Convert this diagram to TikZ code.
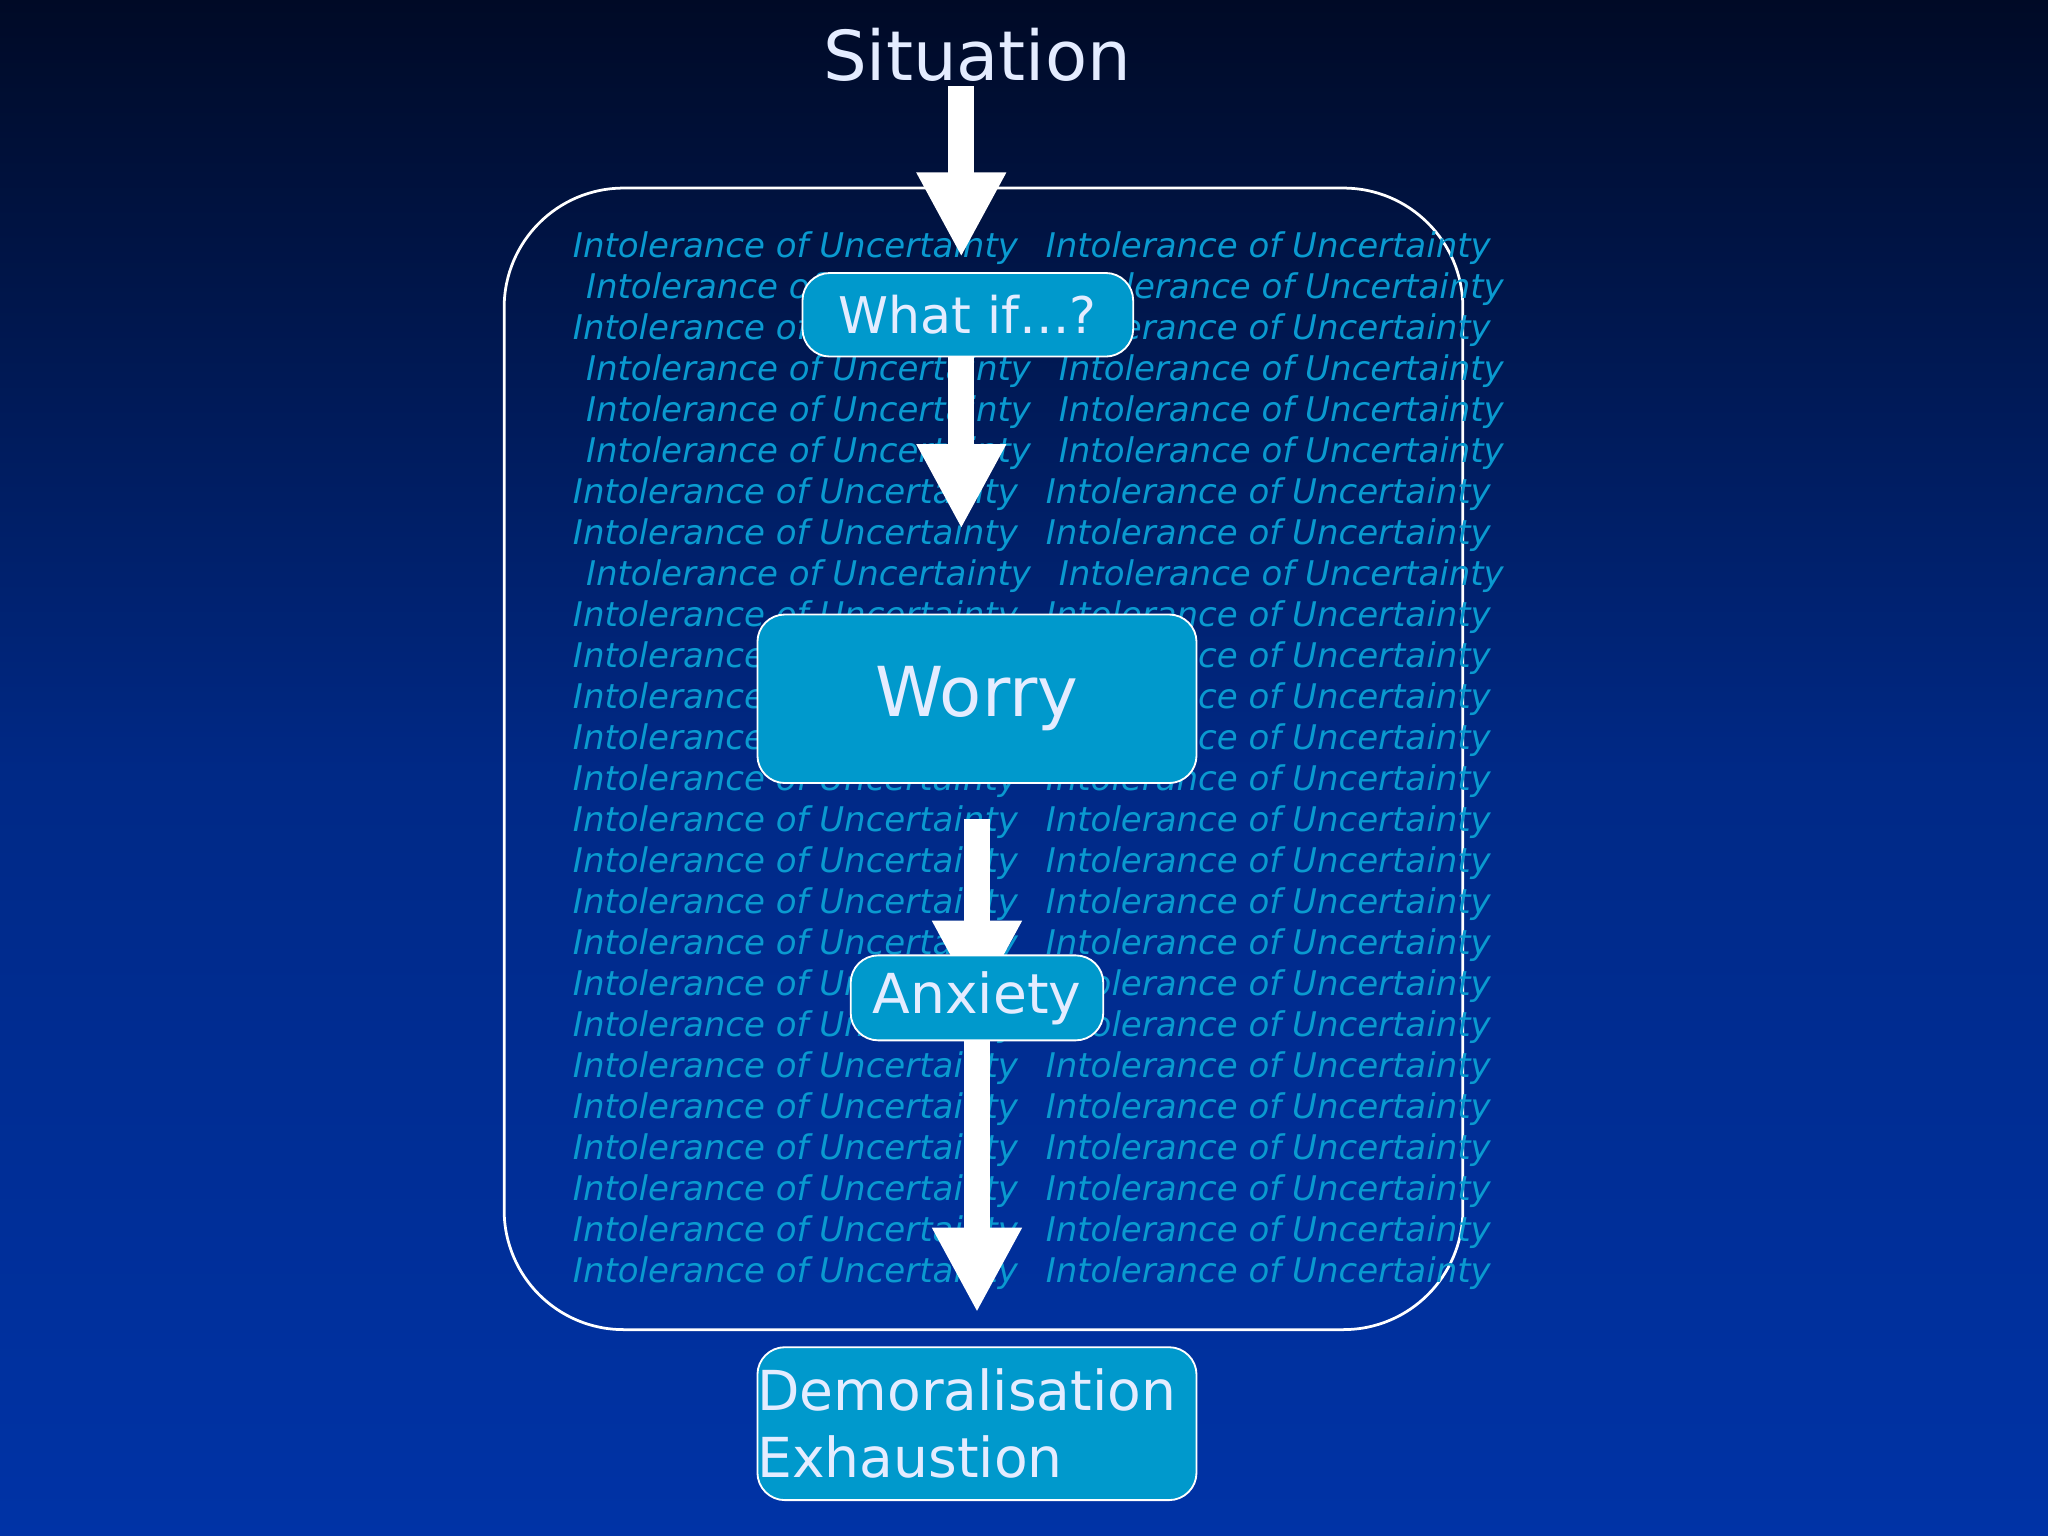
\documentclass[tikz,border=0pt]{standalone}
\usepackage{fontspec}
\setmainfont{DejaVu Sans}
\usetikzlibrary{arrows.meta, positioning}
\definecolor{boxblue}{HTML}{0099CC}
\definecolor{iutext}{HTML}{0A9AD0}
\definecolor{bgtop}{HTML}{000A26}
\definecolor{bgbot}{HTML}{0033A6}
\definecolor{titlewhite}{HTML}{E4ECFF}
\tikzset{
  flowbox/.style={draw=white, fill=boxblue, rounded corners=6pt, text=titlewhite, inner sep=0pt},
  bigarrow/.style={white, line width=5.7pt, -{Triangle[width=18.2pt,length=18.5pt]}},
  iulabel/.style={anchor=west, text=iutext, inner sep=0pt, font=\fontsize{7.4}{8}\selectfont\itshape},
}
\begin{document}
\begin{tikzpicture}[x=0.01cm, y=-0.01cm]
  % background
  \shade[top color=bgtop, bottom color=bgbot, middle color=bgbot!75!bgtop] (0,0) rectangle (1568,1176);
  \useasboundingbox (0,0) rectangle (1568,1176);
  \draw[white, line width=0.6pt, rounded corners=26pt] (386,144) rectangle (1120,1018);
  % background text
  \foreach \i/\dl in {0/0,1/10,2/0,3/10,4/10,5/10,6/0,7/0,8/10,9/0,10/0,11/0,12/0,13/0,
                      14/0,15/0,16/0,17/0,18/0,19/0,20/0,21/0,22/0,23/0,24/0,25/0} {
    \node[iulabel] at (438+\dl,190+31.4*\i) {Intolerance of Uncertainty};
    \node[iulabel] at (800+\dl,190+31.4*\i) {Intolerance of Uncertainty};
  }
  % nodes
  \node[text=titlewhite, font=\fontsize{15}{17}\selectfont] (sit) at (748,42) {Situation};
  \coordinate (sitend) at (736,66);
  \coordinate (whatiftip) at (736,197);
  \coordinate (worrytip) at (736,405);
  \coordinate (anxtip) at (748,770);
  \coordinate (demtip) at (748,1005);
  \coordinate (worryout) at (748,627);
  \draw[bigarrow] (sitend) -- (whatiftip);
  \node[flowbox, minimum width=72pt, minimum height=18.2pt, font=\fontsize{11}{13}\selectfont] (whatif) at (741,241) {What if…?};
  \draw[bigarrow] (whatif.south -| worrytip) -- (worrytip);
  \draw[bigarrow] (worryout) -- (anxtip);
  \node[flowbox, minimum width=55pt, minimum height=18.5pt, font=\fontsize{12}{14}\selectfont] (anx) at (748,764) {Anxiety};
  \draw[bigarrow] (anx.south) -- (demtip);
  \node[flowbox, minimum width=95.6pt, minimum height=36.7pt, font=\fontsize{15}{18}\selectfont] (worry) at (748,535) {Worry};
  \node[flowbox, minimum width=95.6pt, minimum height=33.3pt, align=left, text width=95.6pt,
        font=\fontsize{12}{14.5}\selectfont] (dem) at (748,1090) {Demoralisation\\Exhaustion};
\end{tikzpicture}
\end{document}
